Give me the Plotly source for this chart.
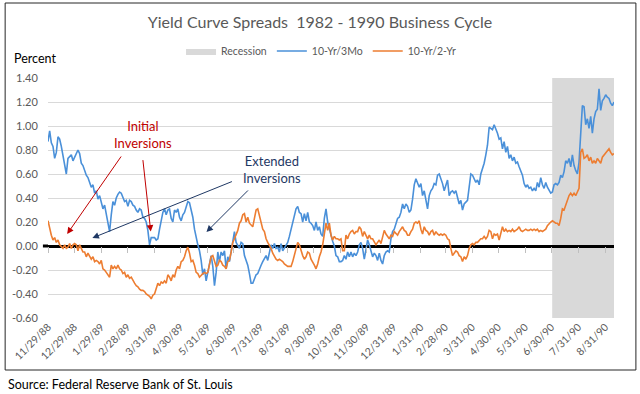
import pandas as pd
import plotly.graph_objects as go

# ---------------- data ----------------
start_date = "1988-11-29"
end_date = "1990-09-10"
recession_start = "1990-07-01"

tick_labels = ["11/29/88", "12/29/88", "1/29/89", "2/28/89", "3/31/89", "4/30/89",
               "5/31/89", "6/30/89", "7/31/89", "8/31/89", "9/30/89", "10/31/89",
               "11/30/89", "12/31/89", "1/31/90", "2/28/90", "3/31/90", "4/30/90",
               "5/31/90", "6/30/90", "7/31/90", "8/31/90"]

y_tick_values = [-0.6, -0.4, -0.2, 0.0, 0.2, 0.4, 0.6, 0.8, 1.0, 1.2, 1.4]

spread_10y_3m = [
    0.87, 0.96, 0.86, 0.83, 0.73, 0.78, 0.91, 0.89, 0.83, 0.76,
    0.70, 0.60, 0.73, 0.75, 0.76, 0.71, 0.74, 0.78, 0.80, 0.77,
    0.69, 0.67, 0.62, 0.59, 0.57, 0.52, 0.49, 0.51, 0.44, 0.46,
    0.39, 0.42, 0.35, 0.31, 0.34, 0.26, 0.20, 0.12, 0.26, 0.37,
    0.34, 0.40, 0.43, 0.45, 0.44, 0.41, 0.37, 0.38, 0.33, 0.38,
    0.37, 0.34, 0.33, 0.30, 0.28, 0.31, 0.30, 0.24, 0.23, 0.20,
    0.13, 0.01, 0.07, 0.07, 0.07, 0.05, 0.06, 0.14, 0.23, 0.28,
    0.31, 0.26, 0.30, 0.31, 0.23, 0.20, 0.30, 0.28, 0.31, 0.24,
    0.21, 0.26, 0.28,
    0.33, 0.37, 0.36, 0.30, 0.24, 0.14, 0.06, 0.01, -0.04, -0.12,
    -0.24, -0.19, -0.29, -0.22, -0.13, -0.08, -0.17, -0.33, -0.22, -0.05,
    -0.13, -0.05, -0.08, -0.04, -0.19, -0.09, -0.13, -0.04, 0.03, 0.12,
    0.03, 0.01, -0.02, 0.03, 0.02, -0.08, -0.12, -0.16, -0.23, -0.31,
    -0.31, -0.27, -0.24, -0.23, -0.19, -0.16, -0.13, -0.11, -0.08, -0.12,
    -0.06, 0.01, -0.02, 0.02, -0.02, -0.01, -0.05, 0.02, -0.04, -0.02,
    0.01, 0.03, 0.08, 0.14, 0.19, 0.26, 0.31, 0.33, 0.28, 0.27,
    0.20, 0.27, 0.21, 0.28, 0.20, 0.19, 0.17, 0.13, 0.20, 0.13,
    0.16, 0.10, 0.08, 0.23, 0.31, 0.20, 0.14,
    0.08, 0.04, 0.00, -0.08, -0.09, -0.13, -0.13, -0.12, -0.08, -0.11,
    -0.05, -0.09, -0.05, -0.09, -0.06, -0.08, -0.05, 0.01, 0.03, -0.02,
    -0.11, -0.02, 0.05, 0.01, -0.04, -0.09, -0.06, -0.08, -0.12, -0.06,
    -0.12, -0.15, -0.08, -0.05, -0.04, -0.05, 0.06, 0.12, 0.14, 0.19,
    0.23, 0.24, 0.28, 0.35, 0.31, 0.35, 0.33, 0.28, 0.30, 0.39,
    0.51, 0.56, 0.53, 0.49, 0.52, 0.42, 0.46, 0.39, 0.31, 0.42,
    0.46, 0.48, 0.52, 0.51, 0.59, 0.60, 0.56, 0.52, 0.46, 0.51,
    0.55, 0.42, 0.45, 0.46, 0.44, 0.46, 0.39, 0.35, 0.38, 0.30,
    0.35, 0.37, 0.38, 0.49, 0.60, 0.59, 0.56,
    0.53, 0.55, 0.51, 0.60, 0.64, 0.69, 0.76, 0.84, 0.99, 0.98,
    0.97, 1.01, 0.98, 0.94, 0.89, 0.90, 0.81, 0.87, 0.78, 0.83,
    0.73, 0.76, 0.71, 0.74, 0.69, 0.70, 0.66, 0.62, 0.59, 0.52,
    0.49, 0.51, 0.48, 0.49, 0.46, 0.48, 0.46, 0.53, 0.49, 0.57,
    0.51, 0.48, 0.53, 0.49, 0.46, 0.44, 0.45, 0.51, 0.52, 0.51,
    0.53, 0.59, 0.57, 0.62, 0.71, 0.69, 0.73, 0.66, 0.76, 0.67,
    0.63, 0.60, 0.70, 0.95, 1.17, 1.16, 1.01, 1.06, 0.98, 1.08,
    0.94, 1.06, 1.12, 1.14, 1.31, 1.13, 1.21, 1.23, 1.26, 1.24,
    1.23, 1.19, 1.17, 1.20,
]

spread_10y_2y = [
    0.21, 0.14, 0.09, 0.05, 0.07, 0.03, 0.05, 0.01, -0.01, -0.02,
    0.01, -0.02, -0.01, 0.02, -0.02, 0.01, 0.02, 0.01, -0.04, 0.01,
    -0.02, -0.05, -0.05, -0.09, -0.06, -0.09, -0.11, -0.09, -0.13, -0.12,
    -0.13, -0.15, -0.12, -0.19, -0.20, -0.22, -0.24, -0.26, -0.16, -0.19,
    -0.17, -0.19, -0.16, -0.19, -0.20, -0.23, -0.22, -0.26, -0.24, -0.27,
    -0.26, -0.29, -0.31, -0.33, -0.34, -0.36, -0.37, -0.37, -0.38, -0.40,
    -0.41, -0.42, -0.44, -0.41, -0.40, -0.36, -0.31, -0.33, -0.30, -0.31,
    -0.29, -0.31, -0.24, -0.26, -0.29, -0.24, -0.26, -0.20, -0.17, -0.19,
    -0.13, -0.12, -0.09,
    -0.04, -0.01, -0.06, -0.13, -0.12, -0.16, -0.22, -0.23, -0.26, -0.24,
    -0.23, -0.22, -0.23, -0.22, -0.16, -0.09, -0.08, -0.13, -0.17, -0.16,
    -0.12, -0.13, -0.16, -0.17, -0.19, -0.13, -0.12, -0.05, 0.03, 0.06,
    0.10, 0.13, 0.19, 0.21, 0.26, 0.27, 0.20, 0.24, 0.19, 0.17,
    0.16, 0.23, 0.30, 0.31, 0.26, 0.20, 0.14, 0.12, 0.06, 0.03,
    0.01, -0.02, -0.06, -0.09, -0.11, -0.12, -0.11, -0.12, -0.13, -0.15,
    -0.16, -0.17, -0.17, -0.17, -0.13, -0.08, -0.02, 0.03, 0.01, -0.04,
    -0.08, -0.11, -0.09, -0.05, -0.06, -0.11, -0.13, -0.16, -0.19, -0.15,
    -0.09, -0.05, 0.01, 0.09, 0.19, 0.13, 0.19,
    0.09, 0.05, 0.08, 0.06, 0.06, 0.05, 0.06, -0.04, -0.04, 0.09,
    0.06, 0.10, 0.12, 0.13, 0.10, 0.12, 0.12, 0.16, 0.14, 0.08,
    0.12, 0.09, 0.06, 0.09, 0.06, 0.06, 0.03, 0.01, 0.03, 0.05,
    0.02, 0.09, 0.13, 0.10, 0.08, 0.06, 0.09, 0.08, 0.12, 0.10,
    0.09, 0.12, 0.14, 0.16, 0.13, 0.12, 0.09, 0.09, 0.12, 0.14,
    0.19, 0.20, 0.19, 0.21, 0.14, 0.10, 0.16, 0.13, 0.12, 0.09,
    0.12, 0.13, 0.09, 0.12, 0.10, 0.09, 0.10, 0.09, 0.10, 0.09,
    0.06, 0.05, -0.02, -0.08, -0.06, -0.04, -0.05, -0.08, -0.09, -0.13,
    -0.09, -0.11, -0.08, -0.02, 0.01, 0.02, 0.01,
    0.03, 0.03, 0.05, 0.06, 0.06, 0.08, 0.06, 0.08, 0.13, 0.12,
    0.06, 0.10, 0.09, 0.10, 0.05, 0.12, 0.16, 0.12, 0.14, 0.12,
    0.13, 0.12, 0.14, 0.12, 0.13, 0.14, 0.16, 0.13, 0.12, 0.13,
    0.14, 0.13, 0.13, 0.14, 0.13, 0.14, 0.13, 0.14, 0.12, 0.13,
    0.12, 0.13, 0.14, 0.17, 0.19, 0.20, 0.21, 0.20, 0.19, 0.19,
    0.17, 0.23, 0.31, 0.30, 0.34, 0.39, 0.42, 0.44, 0.42, 0.44,
    0.42, 0.45, 0.48, 0.78, 0.81, 0.73, 0.74, 0.76, 0.71, 0.74,
    0.69, 0.71, 0.69, 0.73, 0.71, 0.69, 0.74, 0.76, 0.77, 0.80,
    0.81, 0.78, 0.76, 0.77,
]

# ---------------- figure ----------------
dates = pd.date_range(start_date, end_date, periods=len(spread_10y_3m))
tick_dates = pd.to_datetime(tick_labels, format="%m/%d/%y")
y_min, y_max = y_tick_values[0], y_tick_values[-1]
x_range = [dates[0], dates[-1]]

FONT = "Lato"
GREY = "#595959"
BLUE = "#4a90d9"
ORANGE = "#ed7d31"
SHADE = "#d9d9d9"

fig = go.Figure()
fig.add_trace(go.Scatter(x=[None], y=[None], name="Recession", mode="lines",
                         fill="toself", fillcolor=SHADE,
                         line=dict(width=0, color=SHADE)))
fig.add_trace(go.Scatter(x=dates, y=spread_10y_3m, name="10-Yr/3Mo", mode="lines",
                         line=dict(color=BLUE, width=1.6)))
fig.add_trace(go.Scatter(x=dates, y=spread_10y_2y, name="10-Yr/2-Yr", mode="lines",
                         line=dict(color=ORANGE, width=1.6)))
# empty helper trace so the zero-line tick axis (x2) is rendered
fig.add_trace(go.Scatter(x=[None], y=[None], xaxis="x2", yaxis="y", mode="lines",
                         showlegend=False, hoverinfo="skip"))

# recession shading
fig.add_shape(type="rect", xref="x", yref="y", x0=recession_start, x1=dates[-1],
              y0=y_min, y1=y_max, fillcolor=SHADE, line=dict(width=0), layer="below")
# small extension of the zero axis line to the left of the plot
fig.add_shape(type="line", xref="paper", yref="y", x0=-0.009, x1=0, y0=0, y1=0,
              line=dict(color="#000000", width=3), layer="above")
# chart border
fig.add_shape(type="rect", xref="paper", yref="paper", x0=-0.0757, x1=1.0387,
              y0=-0.2167, y1=1.3125, line=dict(color="#262626", width=1),
              fillcolor="rgba(0,0,0,0)", layer="above")

annotations = [
    dict(text="Percent", xref="paper", yref="paper", x=-0.0634, y=1.083,
         xanchor="left", yanchor="middle", showarrow=False,
         font=dict(size=12.5, color="#000000")),
    dict(text="Source: Federal Reserve Bank of St. Louis", xref="paper", yref="paper",
         x=-0.0739, y=-0.279, xanchor="left", yanchor="middle", showarrow=False,
         font=dict(size=12.5, color="#000000")),
    dict(text="Initial<br>Inversions", xref="paper", yref="paper", x=0.1685, y=0.765,
         xanchor="center", yanchor="middle", showarrow=False,
         font=dict(size=13, color="#c00000")),
    dict(text="Extended<br>Inversions", xref="paper", yref="paper", x=0.396, y=0.617,
         xanchor="center", yanchor="middle", showarrow=False,
         font=dict(size=13, color="#1f3864")),
]
arrows = [
    ("1988-12-21", 0.10, 55, -79, "#c00000"),
    ("1989-03-27", 0.12, -8, -73, "#c00000"),
    ("1989-01-19", 0.067, 141, -57, "#1f3864"),
    ("1989-05-30", 0.117, 43, -43, "#1f3864"),
]
for ax_x, ax_y, dx, dy, col in arrows:
    annotations.append(dict(text="", x=ax_x, y=ax_y, xref="x", yref="y",
                            ax=dx, ay=dy, showarrow=True, arrowhead=2,
                            arrowsize=1.3, arrowwidth=1, arrowcolor=col, standoff=0))

fig.update_layout(
    width=640, height=394,
    margin=dict(l=46, r=26, t=78, b=76),
    paper_bgcolor="white", plot_bgcolor="white",
    font=dict(family=FONT, color=GREY),
    title=dict(text="Yield Curve Spreads  1982 - 1990 Business Cycle",
               x=0.5, xref="container", xanchor="center",
               y=1 - 22 / 394, yref="container", yanchor="middle",
               font=dict(size=16, color=GREY, family=FONT)),
    legend=dict(orientation="h", x=0.4824, xanchor="center", y=1.1125,
                yanchor="middle", font=dict(size=10.5, color=GREY), itemwidth=30,
                bgcolor="rgba(0,0,0,0)"),
    showlegend=True,
    annotations=annotations,
    xaxis=dict(type="date", range=x_range, tickvals=tick_dates,
               ticktext=tick_labels, tickangle=-45, showgrid=False, zeroline=False,
               showline=False, ticks="", tickfont=dict(size=10.5, color=GREY)),
    # tick marks sitting on the zero line (category axis crossing at 0)
    xaxis2=dict(type="date", range=x_range, tickvals=tick_dates, overlaying="x",
                anchor="free", position=(0 - y_min) / (y_max - y_min), side="bottom",
                showticklabels=False, showgrid=False, zeroline=False, showline=False,
                ticks="outside", ticklen=6, tickwidth=1, tickcolor="#bfbfbf"),
    yaxis=dict(range=[y_min, y_max], tickvals=y_tick_values,
               ticktext=[f"{v:.2f}" for v in y_tick_values],
               showgrid=True, gridcolor=SHADE, gridwidth=1,
               zeroline=True, zerolinecolor="#000000", zerolinewidth=3,
               showline=False, ticks="outside", ticklen=7, tickcolor="rgba(0,0,0,0)",
               tickfont=dict(size=11, color=GREY)),
)

fig.write_html("out.html", config={"displayModeBar": False},
               post_script="document.body.style.margin='0';document.body.style.overflow='hidden';")
